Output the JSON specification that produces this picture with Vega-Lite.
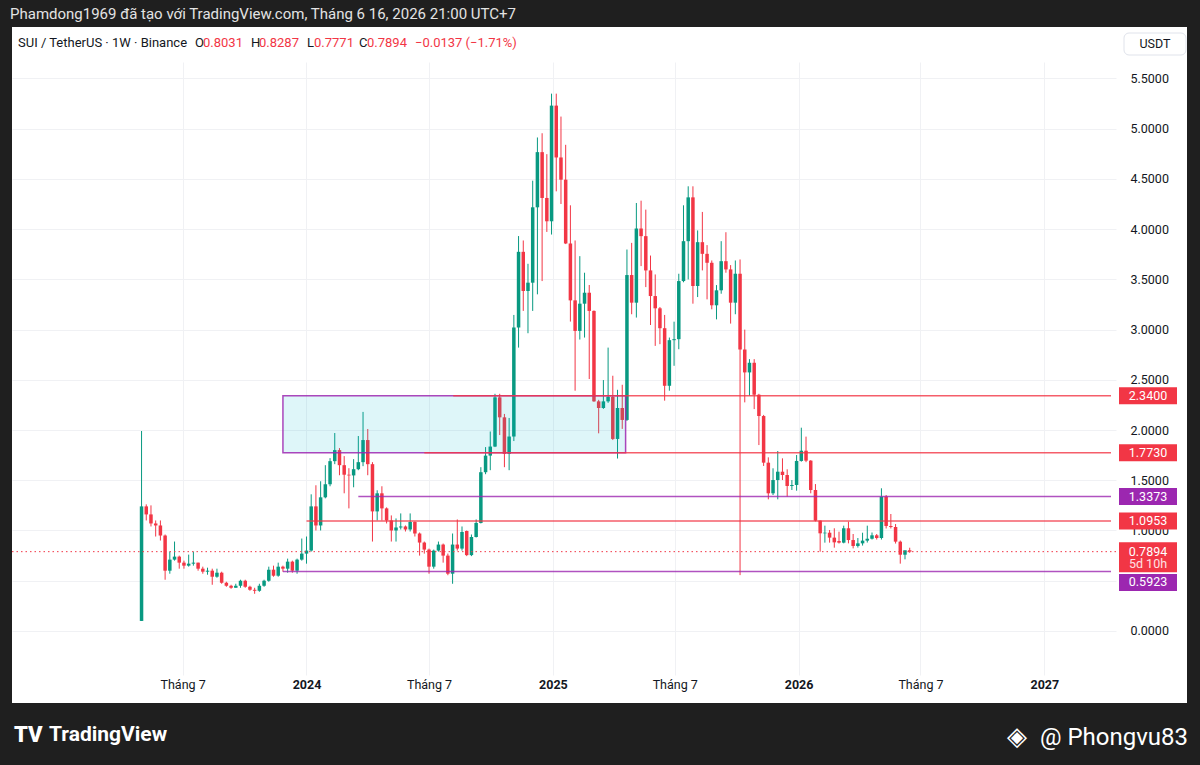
{
  "$schema": "https://vega.github.io/schema/vega-lite/v6.json",
  "width": 1104,
  "height": 613,
  "autosize": {"type": "none"},
  "padding": {"left": 12, "top": 62, "right": 84, "bottom": 90},
  "background": "#ffffff",
  "config": {"view": {"stroke": null}, "font": "Roboto"},
  "data": {"values": [{}]},
  "datasets": {
    "k": [
      {"d":"2023-05-01","o":0.10,"h":1.99,"l":0.10,"c":1.24},
      {"d":"2023-05-08","o":1.24,"h":1.26,"l":1.10,"c":1.16},
      {"d":"2023-05-15","o":1.16,"h":1.25,"l":1.04,"c":1.07},
      {"d":"2023-05-22","o":1.07,"h":1.10,"l":0.94,"c":1.05},
      {"d":"2023-05-29","o":1.05,"h":1.10,"l":0.90,"c":0.95},
      {"d":"2023-06-05","o":0.95,"h":0.96,"l":0.51,"c":0.60},
      {"d":"2023-06-12","o":0.60,"h":0.79,"l":0.57,"c":0.71},
      {"d":"2023-06-19","o":0.71,"h":0.89,"l":0.70,"c":0.74},
      {"d":"2023-06-26","o":0.74,"h":0.75,"l":0.62,"c":0.68},
      {"d":"2023-07-03","o":0.68,"h":0.70,"l":0.62,"c":0.65},
      {"d":"2023-07-10","o":0.65,"h":0.76,"l":0.64,"c":0.67},
      {"d":"2023-07-17","o":0.67,"h":0.79,"l":0.65,"c":0.68},
      {"d":"2023-07-24","o":0.68,"h":0.68,"l":0.60,"c":0.62},
      {"d":"2023-07-31","o":0.62,"h":0.64,"l":0.57,"c":0.59},
      {"d":"2023-08-07","o":0.59,"h":0.63,"l":0.56,"c":0.60},
      {"d":"2023-08-14","o":0.60,"h":0.62,"l":0.46,"c":0.54},
      {"d":"2023-08-21","o":0.54,"h":0.62,"l":0.53,"c":0.58},
      {"d":"2023-08-28","o":0.58,"h":0.59,"l":0.47,"c":0.48},
      {"d":"2023-09-04","o":0.48,"h":0.49,"l":0.44,"c":0.45},
      {"d":"2023-09-11","o":0.45,"h":0.46,"l":0.42,"c":0.43},
      {"d":"2023-09-18","o":0.43,"h":0.47,"l":0.43,"c":0.45},
      {"d":"2023-09-25","o":0.45,"h":0.51,"l":0.43,"c":0.50},
      {"d":"2023-10-02","o":0.50,"h":0.51,"l":0.43,"c":0.44},
      {"d":"2023-10-09","o":0.44,"h":0.45,"l":0.40,"c":0.41},
      {"d":"2023-10-16","o":0.41,"h":0.43,"l":0.37,"c":0.40},
      {"d":"2023-10-23","o":0.40,"h":0.47,"l":0.39,"c":0.45},
      {"d":"2023-10-30","o":0.45,"h":0.51,"l":0.44,"c":0.50},
      {"d":"2023-11-06","o":0.50,"h":0.64,"l":0.49,"c":0.61},
      {"d":"2023-11-13","o":0.61,"h":0.65,"l":0.54,"c":0.55},
      {"d":"2023-11-20","o":0.55,"h":0.68,"l":0.54,"c":0.64},
      {"d":"2023-11-27","o":0.64,"h":0.65,"l":0.59,"c":0.62},
      {"d":"2023-12-04","o":0.62,"h":0.72,"l":0.58,"c":0.69},
      {"d":"2023-12-11","o":0.69,"h":0.70,"l":0.58,"c":0.60},
      {"d":"2023-12-18","o":0.60,"h":0.72,"l":0.57,"c":0.71},
      {"d":"2023-12-25","o":0.71,"h":0.92,"l":0.70,"c":0.77},
      {"d":"2024-01-01","o":0.77,"h":0.94,"l":0.67,"c":0.80},
      {"d":"2024-01-08","o":0.80,"h":1.36,"l":0.79,"c":1.24},
      {"d":"2024-01-15","o":1.24,"h":1.45,"l":1.00,"c":1.05},
      {"d":"2024-01-22","o":1.05,"h":1.49,"l":1.00,"c":1.33},
      {"d":"2024-01-29","o":1.33,"h":1.65,"l":1.32,"c":1.46},
      {"d":"2024-02-05","o":1.46,"h":1.72,"l":1.44,"c":1.69},
      {"d":"2024-02-12","o":1.69,"h":1.97,"l":1.66,"c":1.80},
      {"d":"2024-02-19","o":1.80,"h":1.82,"l":1.55,"c":1.65},
      {"d":"2024-02-26","o":1.65,"h":1.74,"l":1.37,"c":1.555},
      {"d":"2024-03-04","o":1.555,"h":1.62,"l":1.22,"c":1.548},
      {"d":"2024-03-11","o":1.548,"h":1.71,"l":1.43,"c":1.61},
      {"d":"2024-03-18","o":1.61,"h":1.94,"l":1.60,"c":1.68},
      {"d":"2024-03-25","o":1.68,"h":2.18,"l":1.64,"c":1.90},
      {"d":"2024-04-01","o":1.90,"h":2.01,"l":1.55,"c":1.66},
      {"d":"2024-04-08","o":1.66,"h":1.68,"l":0.89,"c":1.19},
      {"d":"2024-04-15","o":1.19,"h":1.40,"l":1.10,"c":1.37},
      {"d":"2024-04-22","o":1.37,"h":1.44,"l":1.10,"c":1.22},
      {"d":"2024-04-29","o":1.22,"h":1.23,"l":1.07,"c":1.10},
      {"d":"2024-05-06","o":1.10,"h":1.15,"l":0.89,"c":1.00},
      {"d":"2024-05-13","o":1.00,"h":1.12,"l":0.89,"c":1.03},
      {"d":"2024-05-20","o":1.03,"h":1.17,"l":1.01,"c":1.04},
      {"d":"2024-05-27","o":1.04,"h":1.05,"l":0.99,"c":1.01},
      {"d":"2024-06-03","o":1.01,"h":1.17,"l":0.99,"c":1.085},
      {"d":"2024-06-10","o":1.085,"h":1.09,"l":0.94,"c":0.97},
      {"d":"2024-06-17","o":0.97,"h":0.98,"l":0.75,"c":0.88},
      {"d":"2024-06-24","o":0.88,"h":0.89,"l":0.77,"c":0.81},
      {"d":"2024-07-01","o":0.81,"h":0.82,"l":0.57,"c":0.64},
      {"d":"2024-07-08","o":0.64,"h":0.81,"l":0.62,"c":0.80},
      {"d":"2024-07-15","o":0.80,"h":0.89,"l":0.79,"c":0.86},
      {"d":"2024-07-22","o":0.86,"h":0.87,"l":0.68,"c":0.75},
      {"d":"2024-07-29","o":0.75,"h":0.77,"l":0.555,"c":0.57},
      {"d":"2024-08-05","o":0.57,"h":0.97,"l":0.47,"c":0.86},
      {"d":"2024-08-12","o":0.86,"h":1.11,"l":0.80,"c":0.82},
      {"d":"2024-08-19","o":0.82,"h":1.04,"l":0.80,"c":0.985},
      {"d":"2024-08-26","o":0.995,"h":1.00,"l":0.745,"c":0.755},
      {"d":"2024-09-02","o":0.755,"h":0.96,"l":0.745,"c":0.935},
      {"d":"2024-09-09","o":0.935,"h":1.11,"l":0.93,"c":1.075},
      {"d":"2024-09-16","o":1.075,"h":1.63,"l":1.07,"c":1.58},
      {"d":"2024-09-23","o":1.58,"h":1.83,"l":1.56,"c":1.745},
      {"d":"2024-09-30","o":1.745,"h":1.985,"l":1.60,"c":1.835},
      {"d":"2024-10-07","o":1.835,"h":2.36,"l":1.83,"c":2.325},
      {"d":"2024-10-14","o":2.325,"h":2.36,"l":1.95,"c":2.126},
      {"d":"2024-10-21","o":2.126,"h":2.16,"l":1.63,"c":1.763},
      {"d":"2024-10-28","o":1.763,"h":2.12,"l":1.60,"c":1.935},
      {"d":"2024-11-04","o":1.935,"h":3.145,"l":1.89,"c":3.02},
      {"d":"2024-11-11","o":3.02,"h":3.93,"l":2.82,"c":3.773},
      {"d":"2024-11-18","o":3.773,"h":3.886,"l":3.185,"c":3.383},
      {"d":"2024-11-25","o":3.383,"h":3.654,"l":2.963,"c":3.466},
      {"d":"2024-12-02","o":3.466,"h":4.481,"l":3.185,"c":4.216},
      {"d":"2024-12-09","o":4.216,"h":4.911,"l":3.35,"c":4.765},
      {"d":"2024-12-16","o":4.765,"h":4.953,"l":3.482,"c":4.309},
      {"d":"2024-12-23","o":4.309,"h":4.745,"l":3.971,"c":4.077},
      {"d":"2024-12-30","o":4.077,"h":5.347,"l":3.945,"c":5.228},
      {"d":"2025-01-06","o":5.228,"h":5.347,"l":4.375,"c":4.712},
      {"d":"2025-01-13","o":4.712,"h":5.119,"l":4.249,"c":4.491},
      {"d":"2025-01-20","o":4.491,"h":4.838,"l":3.85,"c":3.856},
      {"d":"2025-01-27","o":3.856,"h":4.236,"l":3.079,"c":3.29},
      {"d":"2025-02-03","o":3.29,"h":3.886,"l":2.391,"c":2.986},
      {"d":"2025-02-10","o":2.986,"h":3.73,"l":2.90,"c":3.257},
      {"d":"2025-02-17","o":3.257,"h":3.565,"l":2.92,"c":3.366},
      {"d":"2025-02-24","o":3.366,"h":3.443,"l":2.507,"c":3.185},
      {"d":"2025-03-03","o":3.185,"h":3.19,"l":2.28,"c":2.285},
      {"d":"2025-03-10","o":2.285,"h":2.30,"l":1.967,"c":2.219},
      {"d":"2025-03-17","o":2.219,"h":2.497,"l":2.21,"c":2.285},
      {"d":"2025-03-24","o":2.285,"h":2.82,"l":2.27,"c":2.33},
      {"d":"2025-03-31","o":2.33,"h":2.54,"l":1.90,"c":1.911},
      {"d":"2025-04-07","o":1.911,"h":2.40,"l":1.716,"c":2.219},
      {"d":"2025-04-14","o":2.219,"h":2.45,"l":2.011,"c":2.10},
      {"d":"2025-04-21","o":2.10,"h":3.796,"l":2.09,"c":3.542},
      {"d":"2025-04-28","o":3.542,"h":3.862,"l":3.152,"c":3.267},
      {"d":"2025-05-05","o":3.267,"h":4.259,"l":3.119,"c":4.005},
      {"d":"2025-05-12","o":4.005,"h":4.282,"l":3.631,"c":3.929},
      {"d":"2025-05-19","o":3.929,"h":4.193,"l":3.422,"c":3.588},
      {"d":"2025-05-26","o":3.588,"h":3.736,"l":3.045,"c":3.333},
      {"d":"2025-06-02","o":3.333,"h":3.548,"l":2.837,"c":3.211},
      {"d":"2025-06-09","o":3.211,"h":3.224,"l":2.854,"c":3.013},
      {"d":"2025-06-16","o":3.013,"h":3.145,"l":2.292,"c":2.44},
      {"d":"2025-06-23","o":2.44,"h":2.92,"l":2.391,"c":2.894},
      {"d":"2025-06-30","o":2.894,"h":3.078,"l":2.639,"c":2.904},
      {"d":"2025-07-07","o":2.904,"h":3.555,"l":2.804,"c":3.482},
      {"d":"2025-07-14","o":3.482,"h":4.236,"l":3.47,"c":3.879},
      {"d":"2025-07-21","o":3.879,"h":4.425,"l":3.498,"c":4.315},
      {"d":"2025-07-28","o":4.315,"h":4.425,"l":3.257,"c":3.433},
      {"d":"2025-08-04","o":3.433,"h":3.986,"l":3.323,"c":3.869},
      {"d":"2025-08-11","o":3.869,"h":4.17,"l":3.588,"c":3.753},
      {"d":"2025-08-18","o":3.753,"h":3.84,"l":3.30,"c":3.664},
      {"d":"2025-08-25","o":3.664,"h":3.687,"l":3.201,"c":3.241},
      {"d":"2025-09-01","o":3.241,"h":3.442,"l":3.101,"c":3.39},
      {"d":"2025-09-08","o":3.39,"h":3.879,"l":3.356,"c":3.68},
      {"d":"2025-09-15","o":3.68,"h":3.968,"l":3.565,"c":3.598},
      {"d":"2025-09-22","o":3.598,"h":3.641,"l":3.059,"c":3.267},
      {"d":"2025-09-29","o":3.267,"h":3.687,"l":3.152,"c":3.555},
      {"d":"2025-10-06","o":3.555,"h":3.697,"l":0.556,"c":2.801},
      {"d":"2025-10-13","o":2.801,"h":2.999,"l":2.275,"c":2.573},
      {"d":"2025-10-20","o":2.573,"h":2.705,"l":2.341,"c":2.669},
      {"d":"2025-10-27","o":2.669,"h":2.705,"l":2.208,"c":2.351},
      {"d":"2025-11-03","o":2.351,"h":2.36,"l":1.85,"c":2.139},
      {"d":"2025-11-10","o":2.139,"h":2.15,"l":1.642,"c":1.675},
      {"d":"2025-11-17","o":1.675,"h":1.728,"l":1.31,"c":1.37},
      {"d":"2025-11-24","o":1.37,"h":1.619,"l":1.353,"c":1.502},
      {"d":"2025-12-01","o":1.502,"h":1.791,"l":1.31,"c":1.585},
      {"d":"2025-12-08","o":1.585,"h":1.718,"l":1.502,"c":1.552},
      {"d":"2025-12-15","o":1.552,"h":1.609,"l":1.337,"c":1.443},
      {"d":"2025-12-22","o":1.443,"h":1.502,"l":1.403,"c":1.453},
      {"d":"2025-12-29","o":1.453,"h":1.751,"l":1.396,"c":1.692},
      {"d":"2026-01-05","o":1.692,"h":2.023,"l":1.685,"c":1.794},
      {"d":"2026-01-12","o":1.794,"h":1.934,"l":1.68,"c":1.695},
      {"d":"2026-01-19","o":1.695,"h":1.70,"l":1.37,"c":1.403},
      {"d":"2026-01-26","o":1.403,"h":1.462,"l":1.09,"c":1.098},
      {"d":"2026-02-02","o":1.098,"h":1.10,"l":0.789,"c":0.972},
      {"d":"2026-02-09","o":0.972,"h":1.048,"l":0.879,"c":0.978},
      {"d":"2026-02-16","o":0.978,"h":1.005,"l":0.879,"c":0.929},
      {"d":"2026-02-23","o":0.929,"h":1.022,"l":0.829,"c":0.882},
      {"d":"2026-03-02","o":0.895,"h":0.988,"l":0.87,"c":0.879},
      {"d":"2026-03-09","o":0.879,"h":1.048,"l":0.872,"c":1.022},
      {"d":"2026-03-16","o":1.022,"h":1.088,"l":0.872,"c":0.905},
      {"d":"2026-03-23","o":0.905,"h":0.965,"l":0.822,"c":0.846},
      {"d":"2026-03-30","o":0.846,"h":0.925,"l":0.83,"c":0.872},
      {"d":"2026-04-06","o":0.872,"h":0.978,"l":0.85,"c":0.899},
      {"d":"2026-04-13","o":0.899,"h":1.048,"l":0.88,"c":0.918},
      {"d":"2026-04-20","o":0.918,"h":0.98,"l":0.91,"c":0.952},
      {"d":"2026-04-27","o":0.952,"h":0.965,"l":0.91,"c":0.925},
      {"d":"2026-05-04","o":0.925,"h":1.42,"l":0.91,"c":1.337},
      {"d":"2026-05-11","o":1.337,"h":1.353,"l":1.02,"c":1.045},
      {"d":"2026-05-18","o":1.045,"h":1.164,"l":1.02,"c":1.035},
      {"d":"2026-05-25","o":1.035,"h":1.064,"l":0.87,"c":0.889},
      {"d":"2026-06-01","o":0.889,"h":0.90,"l":0.67,"c":0.759},
      {"d":"2026-06-08","o":0.759,"h":0.80,"l":0.713,"c":0.8031},
      {"d":"2026-06-15","o":0.8031,"h":0.8287,"l":0.7771,"c":0.7894}
    ],
    "zones": [
      {"s": "2023-11-27", "e": "2025-04-19", "lo": 1.773, "hi": 2.34}
    ],
    "levels": [
      {"s": "2024-08-06", "e": "2027-04-10", "p": 2.34, "g": "A"},
      {"s": "2024-06-24", "e": "2027-04-10", "p": 1.773, "g": "A"},
      {"s": "2024-03-18", "e": "2027-04-10", "p": 1.3373, "g": "B"},
      {"s": "2024-01-01", "e": "2027-04-10", "p": 1.0953, "g": "A"},
      {"s": "2023-11-27", "e": "2027-04-10", "p": 0.5923, "g": "B"}
    ],
    "tags": [
      {"p": 2.34, "t": "2.3400", "g": "A"},
      {"p": 1.773, "t": "1.7730", "g": "A"},
      {"p": 1.3373, "t": "1.3373", "g": "B"},
      {"p": 1.0953, "t": "1.0953", "g": "A"},
      {"p": 0.5923, "t": "0.5923", "g": "B"}
    ],
    "last": [
      {"p": 0.7894, "t": "0.7894", "cd": "5d 10h"}
    ]
  },
  "layer": [
    {
      "data": {"name": "k"},
      "mark": {"type": "rule", "strokeWidth": 1},
      "encoding": {
        "x": {
          "field": "d", "type": "temporal", "title": null,
          "scale": {"type": "utc", "nice": false, "domain": [
            {"year": 2022, "month": 10, "date": 28, "utc": true},
            {"year": 2027, "month": 4, "date": 10, "utc": true}
          ]},
          "axis": {
            "values": [
              {"year": 2023, "month": 7, "date": 1, "utc": true},
              {"year": 2024, "month": 1, "date": 1, "utc": true},
              {"year": 2024, "month": 7, "date": 1, "utc": true},
              {"year": 2025, "month": 1, "date": 1, "utc": true},
              {"year": 2025, "month": 7, "date": 1, "utc": true},
              {"year": 2026, "month": 1, "date": 1, "utc": true},
              {"year": 2026, "month": 7, "date": 1, "utc": true},
              {"year": 2027, "month": 1, "date": 1, "utc": true}
            ],
            "labelExpr": "utcmonth(datum.value) == 0 ? utcFormat(datum.value, '%Y') : 'Tháng 7'",
            "labelFontWeight": {"condition": {"test": "utcmonth(datum.value) == 0", "value": "bold"}, "value": "normal"},
            "domain": false, "ticks": false, "tickSize": 0,
            "labelPadding": 9, "labelBaseline": "middle", "labelFontSize": 12.5,
            "labelColor": "#131722", "labelFlush": false, "labelOverlap": false,
            "grid": true, "gridColor": "#f0f1f4"
          }
        },
        "y": {
          "field": "l", "type": "quantitative", "title": null,
          "scale": {"domain": [-0.438, 5.662], "nice": false, "zero": false},
          "axis": {
            "orient": "right",
            "values": [0, 0.5, 1, 1.5, 2, 2.5, 3, 3.5, 4, 4.5, 5, 5.5],
            "format": ".4f",
            "domain": false, "ticks": false, "tickSize": 0,
            "labelPadding": 14, "labelAlign": "left", "labelBaseline": "middle",
            "labelFontSize": 12.5, "labelColor": "#131722",
            "grid": true, "gridColor": "#f0f1f4"
          }
        },
        "y2": {"field": "h"},
        "color": {"condition": {"test": "datum.c >= datum.o", "value": "#089981"}, "value": "#F23645"}
      }
    },
    {
      "data": {"name": "k"},
      "mark": {"type": "bar", "width": 3.5},
      "encoding": {
        "x": {"field": "d", "type": "temporal", "title": null},
        "y": {"field": "o", "type": "quantitative", "title": null},
        "y2": {"field": "c"},
        "color": {"condition": {"test": "datum.c >= datum.o", "value": "#089981"}, "value": "#F23645"}
      }
    },
    {
      "data": {"name": "zones"},
      "mark": {"type": "rect", "fill": "#00BCD4", "fillOpacity": 0.13, "stroke": "#9C27B0", "strokeOpacity": 0.85, "strokeWidth": 1.5},
      "encoding": {
        "x": {"field": "s", "type": "temporal", "title": null},
        "x2": {"field": "e"},
        "y": {"field": "lo", "type": "quantitative", "title": null},
        "y2": {"field": "hi"}
      }
    },
    {
      "data": {"name": "levels"},
      "mark": {"type": "rule", "strokeWidth": 1.5, "opacity": 0.8},
      "encoding": {
        "x": {"field": "s", "type": "temporal", "title": null},
        "x2": {"field": "e"},
        "y": {"field": "p", "type": "quantitative", "title": null},
        "color": {"field": "g", "type": "nominal", "legend": null,
          "scale": {"domain": ["A", "B"], "range": ["#F23645", "#9C27B0"]}}
      }
    },
    {
      "data": {"name": "last"},
      "mark": {"type": "rule", "color": "#F23645", "strokeWidth": 1, "strokeDash": [1.5, 3]},
      "encoding": {
        "y": {"field": "p", "type": "quantitative", "title": null}
      }
    },
    {
      "data": {"name": "tags"},
      "transform": [{"filter": "datum.p > 0.7"}],
      "mark": {"type": "tick", "orient": "horizontal", "size": 58, "thickness": 17, "opacity": 1},
      "encoding": {
        "x": {"value": 1136},
        "y": {"field": "p", "type": "quantitative", "title": null},
        "size": {"value": 58},
        "color": {"field": "g", "type": "nominal", "legend": null}
      }
    },
    {
      "data": {"name": "tags"},
      "transform": [{"filter": "datum.p > 0.7"}],
      "mark": {"type": "text", "align": "center", "baseline": "middle", "fontSize": 12.5, "color": "#ffffff"},
      "encoding": {
        "x": {"value": 1136},
        "y": {"field": "p", "type": "quantitative", "title": null},
        "text": {"field": "t"}
      }
    },
    {
      "data": {"name": "tags"},
      "transform": [{"filter": "datum.p < 0.7"}],
      "mark": {"type": "tick", "orient": "horizontal", "size": 58, "thickness": 17, "yOffset": 11, "opacity": 1},
      "encoding": {
        "x": {"value": 1136},
        "y": {"field": "p", "type": "quantitative", "title": null},
        "size": {"value": 58},
        "color": {"field": "g", "type": "nominal", "legend": null}
      }
    },
    {
      "data": {"name": "tags"},
      "transform": [{"filter": "datum.p < 0.7"}],
      "mark": {"type": "text", "align": "center", "baseline": "middle", "fontSize": 12.5, "yOffset": 11, "color": "#ffffff"},
      "encoding": {
        "x": {"value": 1136},
        "y": {"field": "p", "type": "quantitative", "title": null},
        "text": {"field": "t"}
      }
    },
    {
      "data": {"name": "last"},
      "mark": {"type": "tick", "orient": "horizontal", "size": 58, "thickness": 30, "yOffset": 5.5, "color": "#F23645", "opacity": 1},
      "encoding": {
        "x": {"value": 1136},
        "y": {"field": "p", "type": "quantitative", "title": null},
        "size": {"value": 58}
      }
    },
    {
      "data": {"name": "last"},
      "mark": {"type": "text", "align": "center", "baseline": "middle", "fontSize": 12.5, "color": "#ffffff"},
      "encoding": {
        "x": {"value": 1136},
        "y": {"field": "p", "type": "quantitative", "title": null},
        "text": {"field": "t"}
      }
    },
    {
      "data": {"name": "last"},
      "mark": {"type": "text", "align": "center", "baseline": "middle", "fontSize": 12.5, "yOffset": 12.5, "color": "#ffe0e3"},
      "encoding": {
        "x": {"value": 1136},
        "y": {"field": "p", "type": "quantitative", "title": null},
        "text": {"field": "cd"}
      }
    },
    {"mark": {"type": "rect", "x": -12, "x2": 1188, "y": -62, "y2": -35, "fill": "#1f1f1f"}},
    {"mark": {"type": "rect", "x": -12, "x2": 1188, "y": 641, "y2": 703, "fill": "#1f1f1f"}},
    {"mark": {"type": "rect", "x": -12, "x2": 0, "y": -62, "y2": 703, "fill": "#1f1f1f"}},
    {"mark": {"type": "rect", "x": 1175, "x2": 1188, "y": -62, "y2": 703, "fill": "#1f1f1f"}},
    {"mark": {"type": "rect", "x": 1112, "x2": 1174, "y": -29, "y2": -7, "fill": "#ffffff", "stroke": "#e0e3eb", "cornerRadius": 5}},
    {"mark": {"type": "text", "x": 1143, "y": -18, "text": "USDT", "align": "center", "baseline": "middle", "fontSize": 12.5, "color": "#131722"}},
    {"mark": {"type": "text", "x": -2, "y": -48, "text": "Phamdong1969 đã tạo với TradingView.com, Tháng 6 16, 2026 21:00 UTC+7", "align": "left", "baseline": "middle", "fontSize": 15, "color": "#e3e3e3"}},
    {"mark": {"type": "text", "x": 6, "y": -19, "text": "SUI / TetherUS · 1W · Binance", "align": "left", "baseline": "middle", "fontSize": 13, "color": "#131722"}},
    {"mark": {"type": "text", "x": 183, "y": -19, "text": "O", "align": "left", "baseline": "middle", "fontSize": 13, "color": "#131722"}},
    {"mark": {"type": "text", "x": 191, "y": -19, "text": "0.8031", "align": "left", "baseline": "middle", "fontSize": 13, "color": "#F23645"}},
    {"mark": {"type": "text", "x": 239, "y": -19, "text": "H", "align": "left", "baseline": "middle", "fontSize": 13, "color": "#131722"}},
    {"mark": {"type": "text", "x": 247, "y": -19, "text": "0.8287", "align": "left", "baseline": "middle", "fontSize": 13, "color": "#F23645"}},
    {"mark": {"type": "text", "x": 295, "y": -19, "text": "L", "align": "left", "baseline": "middle", "fontSize": 13, "color": "#131722"}},
    {"mark": {"type": "text", "x": 302, "y": -19, "text": "0.7771", "align": "left", "baseline": "middle", "fontSize": 13, "color": "#F23645"}},
    {"mark": {"type": "text", "x": 347, "y": -19, "text": "C", "align": "left", "baseline": "middle", "fontSize": 13, "color": "#131722"}},
    {"mark": {"type": "text", "x": 355, "y": -19, "text": "0.7894", "align": "left", "baseline": "middle", "fontSize": 13, "color": "#F23645"}},
    {"mark": {"type": "text", "x": 403, "y": -19, "text": "−0.0137 (−1.71%)", "align": "left", "baseline": "middle", "fontSize": 13, "color": "#F23645"}},
    {"mark": {"type": "text", "x": 2, "y": 673, "text": "TV", "align": "left", "baseline": "middle", "fontSize": 22, "fontWeight": 900, "color": "#ffffff"}},
    {"mark": {"type": "text", "x": 37, "y": 673, "text": "TradingView", "align": "left", "baseline": "middle", "fontSize": 21, "fontWeight": "bold", "color": "#ffffff"}},
    {"mark": {"type": "text", "x": 1005, "y": 675, "text": "◈", "font": "DejaVu Sans", "align": "center", "baseline": "middle", "fontSize": 26, "color": "#ffffff"}},
    {"mark": {"type": "text", "x": 1176, "y": 676, "text": "@ Phongvu83", "align": "right", "baseline": "middle", "fontSize": 24, "color": "#ffffff"}}
  ]
}
